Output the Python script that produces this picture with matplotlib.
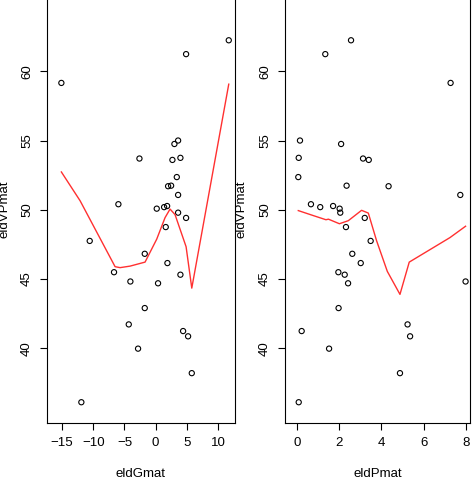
import matplotlib
matplotlib.use("Agg")
import matplotlib.pyplot as plt

# ── Data ─────────────────────────────────────────────────────────────────────
eldVPmat = [59.16, 62.24, 61.24, 55.0, 54.75, 53.7, 53.6, 53.75, 52.36, 51.7, 51.74,
            51.07, 50.4, 50.08, 50.19, 50.27, 49.79, 49.41, 48.75, 47.75, 46.82,
            46.15, 45.49, 44.82, 44.69, 45.31, 42.9, 41.72, 41.24, 40.86, 39.97,
            38.2, 36.1]
eldGmat = [-15.1, 11.7, 4.87, 3.59, 3.0, -2.6, 2.68, 3.96, 3.38, 1.99, 2.47,
           3.59, -5.97, 0.17, 1.35, 1.83, 3.59, 4.87, 1.61, -10.56, -1.75,
           1.88, -6.67, -4.05, 0.38, 3.96, -1.75, -4.31, 4.39, 5.19, -2.82,
           5.78, -11.9]
eldPmat = [7.28, 2.56, 1.34, 0.14, 2.09, 3.13, 3.4, 0.08, 0.06, 4.34, 2.35,
           7.74, 0.66, 2.02, 1.1, 1.71, 2.05, 3.21, 2.32, 3.49, 2.62,
           3.02, 1.96, 7.99, 2.42, 2.26, 1.97, 5.24, 0.22, 5.36, 1.52,
           4.88, 0.08]

# smoothed fits (red lines)
fitG_x = [-15.1, -12.1, -6.5, -5.7, -4.1, -1.7, 0.17, 1.5, 2.3, 3.1, 4.87, 5.78, 11.7]
fitG_y = [52.73, 50.65, 45.89, 45.82, 45.93, 46.22, 47.88, 49.43, 50.05, 49.65, 47.33, 44.34, 59.07]
fitP_x = [0.06, 0.77, 1.37, 1.49, 2.01, 2.43, 3.06, 3.38, 3.77, 4.28, 4.88, 5.32, 7.25, 7.99]
fitP_y = [49.94, 49.58, 49.28, 49.32, 48.99, 49.21, 49.96, 49.76, 47.77, 45.55, 43.89, 46.22, 47.99, 48.81]

plt.rcParams["font.family"] = ["Liberation Sans", "DejaVu Sans"]
fig = plt.figure(figsize=(4.74, 4.86), dpi=100)

H = 486.0
BOTTOM = 423
panels = [
    (47, 235, eldGmat, fitG_x, fitG_y, "eldGmat", (-17.4, 12.7), [-15, -10, -5, 0, 5, 10]),
    (285, 470, eldPmat, fitP_x, fitP_y, "eldPmat", (-0.57, 8.2), [0, 2, 4, 6, 8]),
]
for left, right, xs, fx, fy, xlabel, xlim, xticks in panels:
    ax = fig.add_axes([left / 474, (H - BOTTOM) / H, (right - left) / 474, BOTTOM / H + 0.01])
    ax.scatter(xs, eldVPmat, s=14, facecolors="none", edgecolors="black", linewidths=0.8)
    ax.plot(fx, fy, color="#ff3030", lw=1)
    ax.set_xlim(*xlim)
    ax.set_ylim(34.6, 65.5)
    ax.set_xticks(xticks)
    ax.set_yticks([40, 45, 50, 55, 60])
    ax.tick_params(labelsize=9.5, length=5, pad=5)
    for lbl in ax.get_yticklabels():
        lbl.set_rotation(90)
        lbl.set_va("center")
    ax.set_xlabel(xlabel, fontsize=9.5, labelpad=14)
    ax.set_ylabel("eldVPmat", fontsize=9.5, labelpad=8)

fig.savefig("out.png", dpi=100, facecolor="white")
